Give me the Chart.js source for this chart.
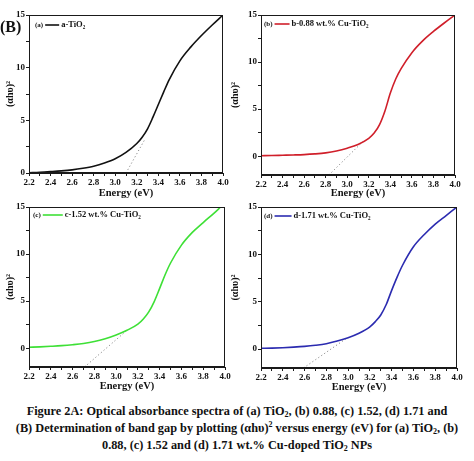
<!DOCTYPE html>
<html><head><meta charset="utf-8">
<script src="https://cdn.jsdelivr.net/npm/chart.js@4.4.0/dist/chart.umd.min.js"></script>
<style>
html,body{margin:0;padding:0;background:#fff;}
body{width:474px;height:461px;position:relative;overflow:hidden;font-family:"Liberation Serif","Times New Roman",serif;color:#111;}
canvas{position:absolute;}
#B{position:absolute;left:0;top:18px;font-weight:bold;font-size:16px;z-index:2;}
#cap{position:absolute;left:0;top:403px;width:474px;text-align:center;font-weight:bold;font-size:12.3px;line-height:17px;white-space:nowrap;}
#cap sub{font-size:8px;vertical-align:-2px;line-height:0;}
#cap sup{font-size:8px;vertical-align:5px;line-height:0;}
</style></head><body>
<div id="B">(B)</div>
<canvas id="ca" width="237" height="200" style="left:0;top:0"></canvas>
<canvas id="cb" width="246" height="200" style="left:228px;top:0"></canvas>
<canvas id="cc" width="237" height="197" style="left:0;top:198px"></canvas>
<canvas id="cd" width="246" height="197" style="left:228px;top:198px"></canvas>
<div id="cap">Figure 2A: Optical absorbance spectra of (a) TiO<sub>2</sub>, (b) 0.88, (c) 1.52, (d) 1.71 and<br>(B) Determination of band gap by plotting (αhυ)<sup>2</sup> versus energy (eV) for (a) TiO<sub>2</sub>, (b)<br>0.88, (c) 1.52 and (d) 1.71 wt.% Cu-doped TiO<sub>2</sub> NPs</div>
<script>
// ---- data ----
const energy  = [2.2,2.3,2.4,2.5,2.6,2.7,2.8,2.9,3.0,3.1,3.2,3.25,3.3,3.35,3.4,3.45,3.5,3.6,3.7,3.8,3.9,4.0];
const energyC = [2.2,2.3,2.4,2.5,2.6,2.7,2.8,2.9,3.0,3.1,3.2,3.25,3.3,3.35,3.4,3.45,3.5,3.6,3.7,3.8,3.9,3.96];
const seriesA = [0.03,0.07,0.13,0.2,0.3,0.45,0.65,0.95,1.35,1.95,2.8,3.4,4.2,5.3,6.5,7.7,8.85,10.65,11.95,13.05,14.05,15.0];
const seriesB = [0.05,0.07,0.1,0.13,0.17,0.24,0.35,0.55,0.85,1.25,1.9,2.45,3.35,4.8,6.7,8.2,9.3,11.0,12.25,13.25,14.15,15.0];
const seriesC = [0.1,0.14,0.2,0.27,0.37,0.5,0.7,1.0,1.4,1.9,2.55,3.1,3.85,4.95,6.35,7.8,9.05,10.95,12.3,13.35,14.35,15.0];
const seriesD = [0.08,0.1,0.14,0.2,0.28,0.4,0.57,0.85,1.2,1.67,2.35,2.9,3.6,4.7,6.2,7.6,8.85,10.8,12.1,13.2,14.1,15.0];
const tangentA = {x:[3.10,3.27], y:[0,3.1]};
const tangentB = {x:[2.83,3.15], y:[-2,1.6]};
const tangentC = {x:[2.71,3.10], y:[-2,1.9]};
const tangentD = {x:[2.59,3.00], y:[-2,1.25]};
const labels = ['a-TiO₂','b-0.88 wt.% Cu-TiO₂','c-1.52 wt.% Cu-TiO₂','d-1.71 wt.% Cu-TiO₂'];
const tags = ['(a)','(b)','(c)','(d)'];
const xMajorTicks = [2.2,2.4,2.6,2.8,3.0,3.2,3.4,3.6,3.8,4.0];
const yMajorTicks = [0,5,10,15];
const xTitle = 'Energy (eV)';
const yTitle = '(αhυ)²';

const pts = (xs, ys) => xs.map((x,i)=>({x, y: ys[i]}));
const withMinor = arr => {
  const out = [];
  arr.forEach((v,i)=>{ out.push(v); if(i<arr.length-1) out.push((v+arr[i+1])/2); });
  return out;
};
const isMajor = (arr, v) => arr.some(m => Math.abs(m-v) < 1e-6);

const SERIF = '"Liberation Serif","Times New Roman",serif';

const framePlugin = {
  id: 'frame',
  afterDraw(chart){
    const {ctx, chartArea:a} = chart;
    ctx.save(); ctx.strokeStyle = '#1a1a1a'; ctx.lineWidth = 1;
    ctx.strokeRect(Math.round(a.left)+0.5, Math.round(a.top)+0.5, Math.round(a.width)-1, Math.round(a.height)-1);
    ctx.restore();
  }
};
const legendPlugin = {
  id: 'panelLegend',
  afterDatasetsDraw(chart, args, opts){
    const {ctx, chartArea:a} = chart;
    const ds = chart.data.datasets[0];
    ctx.save();
    ctx.fillStyle = '#111'; ctx.textBaseline = 'middle';
    let x = a.left + opts.dx, y = a.top + opts.dy;
    ctx.font = 'bold 7px ' + SERIF;
    ctx.fillText(opts.tag, x, y);
    x += ctx.measureText(opts.tag).width + 2;
    ctx.strokeStyle = ds.borderColor; ctx.lineWidth = 1.6;
    ctx.beginPath(); ctx.moveTo(x, y); ctx.lineTo(x + opts.len, y); ctx.stroke();
    x += opts.len + 2;
    ctx.font = 'bold 8.5px ' + SERIF;
    ctx.fillText(ds.label, x, y);
    ctx.restore();
  }
};

function makePanel(id, cfg){
  new Chart(document.getElementById(id), {
    type: 'line',
    data: { datasets: [
      { label: cfg.label, data: pts(cfg.xs, cfg.ys), borderColor: cfg.color, borderWidth: 1.6,
        pointRadius: 0, cubicInterpolationMode: 'monotone', fill: false },
      { label: 'tangent', data: pts(cfg.tan.x, cfg.tan.y), borderColor: '#8a8a8a', borderWidth: 1,
        borderDash: [1.2, 2.4], pointRadius: 0, tension: 0, fill: false }
    ]},
    options: {
      responsive: false, animation: false, devicePixelRatio: 1,
      layout: { padding: cfg.pad },
      plugins: { legend: {display:false}, tooltip: {enabled:false},
        panelLegend: { tag: cfg.tag, dx: cfg.ldx, dy: cfg.ldy, len: cfg.llen } },
      scales: {
        x: { type: 'linear', min: 2.2, max: 4.0,
          afterBuildTicks: s => { s.ticks = withMinor(xMajorTicks).map(v=>({value:v})); },
          afterFit: s => { s.height = cfg.xh; },
          ticks: { autoSkip:false, maxRotation:0, padding: 1.5, color:'#111',
            font:{family:SERIF, size:9, weight:'bold'},
            callback: v => isMajor(xMajorTicks, v) ? v.toFixed(1) : '' },
          grid: { drawOnChartArea:false, drawTicks:true, tickLength:3, color:'#1a1a1a' },
          border: { display:true, color:'#1a1a1a' },
          title: { display:true, text: xTitle, color:'#111', padding:{top:0,bottom:cfg.tpad},
            font:{family:SERIF, size:10.5, weight:'bold'} } },
        y: { type: 'linear', min: cfg.ymin, max: 15,
          afterBuildTicks: s => { s.ticks = withMinor(yMajorTicks).map(v=>({value:v})); },
          afterFit: s => { s.width = cfg.yw; },
          ticks: { autoSkip:false, padding: 1, color:'#111',
            font:{family:SERIF, size:9, weight:'bold'},
            callback: v => isMajor(yMajorTicks, v) ? String(v) : '' },
          grid: { drawOnChartArea:false, drawTicks:true, tickLength:3, color:'#1a1a1a' },
          border: { display:true, color:'#1a1a1a' },
          title: { display:true, text: yTitle, color:'#111', padding:{top:cfg.ytp,bottom:0},
            font:{family:SERIF, size:10, weight:'bold'} } }
      }
    },
    plugins: [legendPlugin, framePlugin]
  });
}

makePanel('ca', { label: labels[0], tag: tags[0], xs: energy, ys: seriesA, tan: tangentA, color:'#111111',
  ymin: 0, pad:{left:0,right:14,top:15,bottom:0}, xh:27, yw:29, tpad:0, ytp:4, ldx:6, ldy:10, llen:14 });
makePanel('cb', { label: labels[1], tag: tags[1], xs: energy, ys: seriesB, tan: tangentB, color:'#d01f2a',
  ymin: -2, pad:{left:0,right:19,top:15,bottom:0}, xh:25, yw:33, tpad:0, ytp:1, ldx:3, ldy:9, llen:15 });
makePanel('cc', { label: labels[2], tag: tags[2], xs: energyC, ys: seriesC, tan: tangentC, color:'#3ee036',
  ymin: -2, pad:{left:0,right:12,top:9,bottom:0}, xh:28, yw:29, tpad:2, ytp:4, ldx:4, ldy:8, llen:20 });
makePanel('cd', { label: labels[3], tag: tags[3], xs: energy, ys: seriesD, tan: tangentD, color:'#2b2bb0',
  ymin: -2, pad:{left:0,right:17,top:9,bottom:0}, xh:27, yw:33, tpad:1, ytp:1, ldx:3, ldy:9, llen:17 });
</script>
</body></html>
